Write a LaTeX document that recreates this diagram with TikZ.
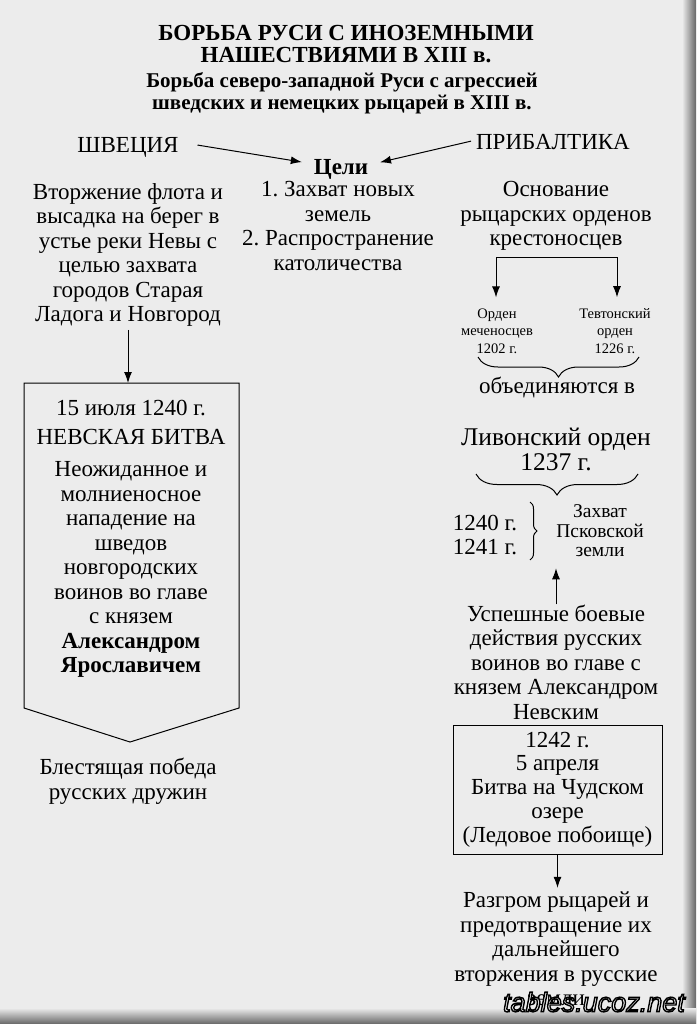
\documentclass[tikz,border=0pt]{standalone}
\usepackage{fontspec}
\setmainfont{Liberation Serif}
\newfontfamily\wmfont{Liberation Sans}
\usepackage{tikz}
\usetikzlibrary{arrows.meta,decorations.pathreplacing}
\definecolor{paper}{RGB}{236,236,236}
\newcommand{\outlined}[1]{\textcolor{white}{\special{pdf:literal direct 0 G 1.4 w 2 Tr}#1\special{pdf:literal direct 0 Tr}}}
\frenchspacing

\begin{document}
\begin{tikzpicture}[x=1pt,y=-1pt,
  txt/.style={align=center,inner sep=0pt,font=\fontsize{23}{24.5}\selectfont},
  smalltxt/.style={align=center,inner sep=0pt,font=\fontsize{14.5}{17.5}\selectfont},
  arr/.style={-{Latex[length=11pt,width=8pt]},line width=1pt},
  brc/.style={decorate,line width=1pt,decoration={brace,amplitude=#1}},
  wm/.style={inner sep=0pt,font=\wmfont\itshape\fontsize{27}{27}\selectfont}]
\useasboundingbox (0,0) rectangle (696,1024);
\fill[paper] (0,0) rectangle (696,1024);
\shade[left color=paper,right color=black!60] (682,0) rectangle (696,1024);
\shade[top color=paper,bottom color=black!60] (0,1008) rectangle (696,1024);

\node[txt,font=\bfseries\fontsize{23}{22.5}\selectfont] (title) at (346,44) {БОРЬБА РУСИ С ИНОЗЕМНЫМИ\\НАШЕСТВИЯМИ В XIII в.};
\node[txt,font=\bfseries\fontsize{21}{22}\selectfont] (subtitle) at (342,93) {Борьба северо-западной Руси с агрессией\\шведских и немецких рыцарей в XIII в.};

\node[txt] (shv) at (128,147) {ШВЕЦИЯ};
\node[txt] (prib) at (553,142) {ПРИБАЛТИКА};
\node[txt,font=\bfseries\fontsize{23}{24.5}\selectfont] (celi) at (341,169) {Цели};
\draw[arr,shorten <=19pt,shorten >=12pt] ([yshift=5pt]shv.east) -- ([yshift=5pt]celi.west);
\draw[arr,shorten <=5pt,shorten >=12pt] ([yshift=2pt]prib.west) -- ([yshift=4pt]celi.east);
\node[txt] (goals) at (338,226) {1. Захват новых\\земель\\2. Распространение\\католичества};

\node[txt] (swed) at (128,255) {Вторжение флота и\\высадка на берег в\\устье реки Невы с\\целью захвата\\городов Старая\\Ладога и Новгород};
\coordinate (nevtop) at (128,383);
\draw[line width=1pt] (24,383) -- (239,383) -- (239,708) -- (130,742) -- (24,708) -- cycle;
\draw[arr,shorten <=3pt] (swed.south) -- (nevtop);
\node[txt] (neva) at (131,539) {15 июля 1240 г.\\[4.5pt]НЕВСКАЯ БИТВА\\[7.5pt]Неожиданное и\\молниеносное\\нападение на\\шведов\\новгородских\\воинов во главе\\с князем\\\textbf{Александром}\\\textbf{Ярославичем}};
\node[txt] (pobeda) at (128,781) {Блестящая победа\\русских дружин};

\node[txt] (found) at (556,216) {Основание\\рыцарских орденов\\крестоносцев};
\coordinate (barL) at (496,257);
\coordinate (barR) at (617,257);
\node[smalltxt] (ord1) at (497,331) {Орден\\меченосцев\\1202 г.};
\node[smalltxt] (ord2) at (615,331) {Тевтонский\\орден\\1226 г.};
\draw[arr,shorten >=11pt] (barR) -- (barL) -- (barL |- ord1.north);
\draw[arr,shorten >=11pt] (barR) -- (barR |- ord2.north);
\draw[brc=20pt] (639,357) -- (478,357);
\node[txt] (unite) at (557,387) {объединяются в};
\node[txt,font=\fontsize{25.5}{25}\selectfont] (livon) at (556,449) {Ливонский орден\\1237 г.};
\draw[brc=21pt] (638,474) -- (476,474);
\node[txt] (years) at (485,535) {1240 г.\\1241 г.};
\draw[brc=7pt] (530,502) -- (530,560);
\node[txt,font=\fontsize{19.5}{19.5}\selectfont] (pskov) at (600,531) {Захват\\Псковской\\земли};
\node[txt] (uspekh) at (556,662) {Успешные боевые\\действия русских\\воинов во главе с\\князем Александром\\Невским};
\draw[arr,shorten >=11pt] (uspekh.north) -- (uspekh.north |- pskov.south);
\node[txt,draw,line width=1pt,minimum width=209pt,minimum height=129pt,font=\fontsize{23}{23.75}\selectfont] (chud) at (557.5,789.5) {1242 г.\\5 апреля\\Битва на Чудском\\озере\\(Ледовое побоище)};
\node[txt] (razgrom) at (556,949) {Разгром рыцарей и\\предотвращение их\\дальнейшего\\вторжения в русские\\земли};
\draw[arr,shorten >=4pt] (chud.south) -- (chud.south |- razgrom.north);

\node[wm] (wmark) at (594,1002) {\outlined{tables.ucoz.net}};
\end{tikzpicture}
\end{document}
